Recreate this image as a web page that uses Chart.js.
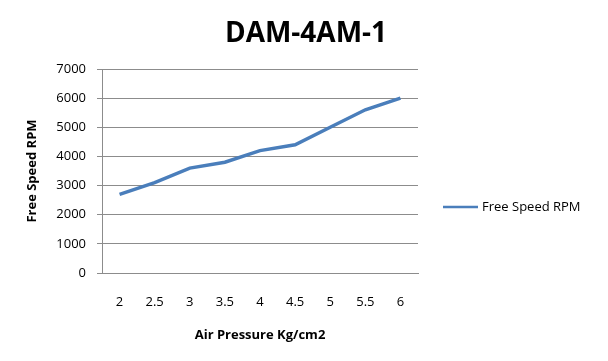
<!DOCTYPE html>
<html><head><meta charset="utf-8">
<script src="https://cdn.jsdelivr.net/npm/chart.js@4/dist/chart.umd.min.js"></script>
<style>html,body{margin:0;padding:0;background:#fff}#wrap{width:608px;height:361px}</style>
</head><body><div id="wrap"><canvas id="c" width="608" height="361"></canvas></div>
<script>
const categories = ['2','2.5','3','3.5','4','4.5','5','5.5','6'];
const freeSpeedRPM = [2700, 3100, 3600, 3800, 4200, 4400, 5000, 5600, 6000];
const seriesName = 'Free Speed RPM';
const chartTitle = 'DAM-4AM-1';
const xTitle = 'Air Pressure Kg/cm2';
const yTitle = 'Free Speed RPM';

const FONT = "'Open Sans', sans-serif";
const LINE_COLOR = '#4A7EBB';
const GRID = '#8C8C8C';

const decorPlugin = {
  id: 'decor',
  afterDraw(chart) {
    const ctx = chart.ctx;
    ctx.save();
    // chart title, centred on the whole picture
    ctx.fillStyle = '#000';
    ctx.font = "bold 28px " + FONT;
    ctx.textAlign = 'center';
    ctx.textBaseline = 'middle';
    ctx.fillText(chartTitle, 306, 34);
    // legend
    const y = 207;
    ctx.strokeStyle = LINE_COLOR;
    ctx.lineWidth = 2.5;
    ctx.beginPath(); ctx.moveTo(443, y); ctx.lineTo(478, y); ctx.stroke();
    ctx.fillStyle = '#000';
    ctx.font = "13px " + FONT;
    ctx.textAlign = 'left';
    ctx.fillText(seriesName, 482, y);
    ctx.restore();
  }
};

new Chart(document.getElementById('c'), {
  type: 'line',
  data: {
    labels: categories,
    datasets: [{
      label: seriesName,
      data: freeSpeedRPM,
      borderColor: LINE_COLOR,
      backgroundColor: LINE_COLOR,
      borderWidth: 3.5,
      pointRadius: 0,
      tension: 0,
      fill: false
    }]
  },
  options: {
    responsive: false,
    animation: false,
    devicePixelRatio: 1,
    layout: { padding: { left: 0, right: 190, top: 69, bottom: 18 } },
    plugins: {
      legend: { display: false },
      tooltip: { enabled: false },
      title: { display: false }
    },
    scales: {
      x: {
        offset: true,
        grid: { display: false, drawTicks: false },
        border: { display: true, color: GRID, width: 1 },
        ticks: { color: '#000', font: { family: FONT, size: 13 }, padding: 21, maxRotation: 0 },
        title: { display: true, text: xTitle, color: '#000', font: { family: FONT, size: 13, weight: 'bold' }, padding: { top: 0, bottom: 0 } },
        afterFit(scale) { scale.height = 70; }
      },
      y: {
        min: 0, max: 7000,
        ticks: { stepSize: 1000, color: '#000', font: { family: FONT, size: 13 }, padding: 11,
                 callback: (v) => String(v) },
        grid: { color: GRID, lineWidth: 1, tickLength: 5, drawTicks: true },
        border: { display: true, color: GRID, width: 1 },
        title: { display: true, text: yTitle, color: '#000', font: { family: FONT, size: 13, weight: 'bold' }, padding: { top: 24, bottom: 0 } },
        afterFit(scale) { scale.width = 102; }
      }
    }
  },
  plugins: [decorPlugin]
});
</script></body></html>
